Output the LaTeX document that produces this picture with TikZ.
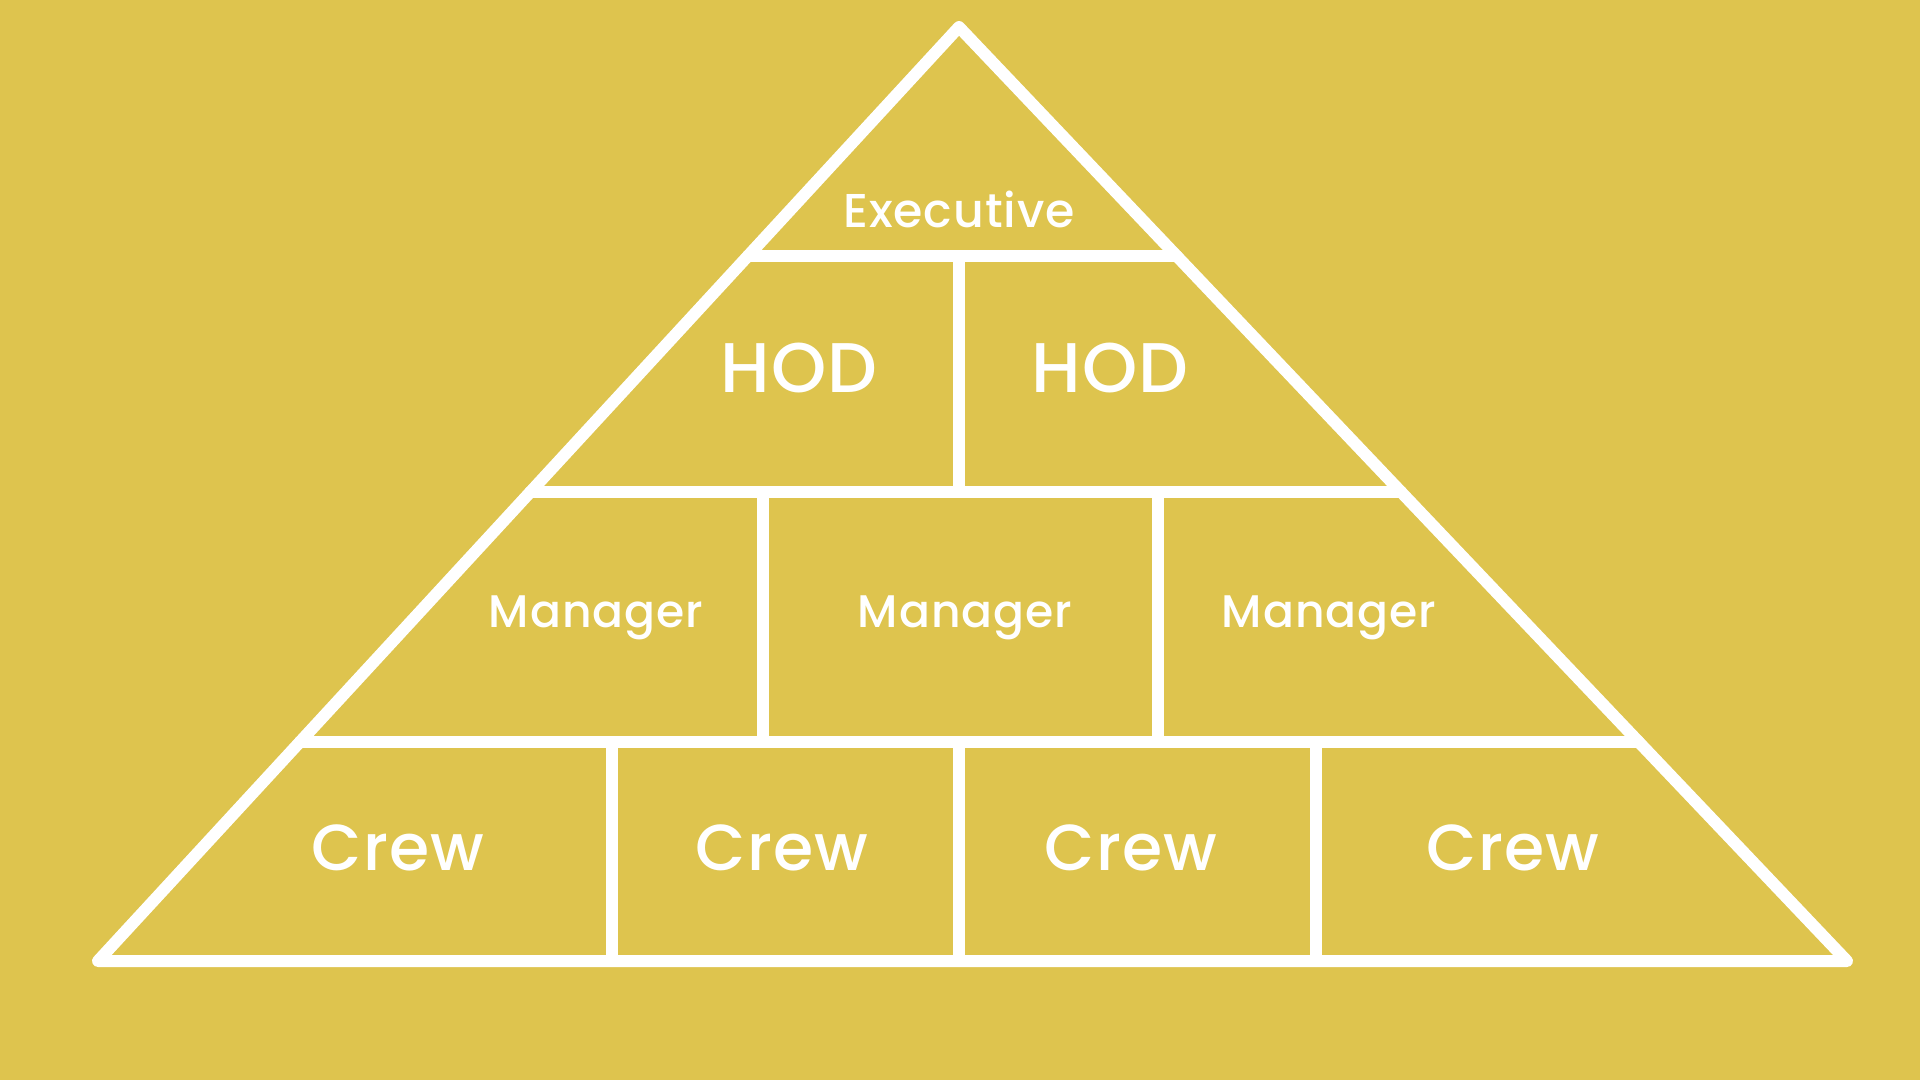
\documentclass[tikz,border=0pt]{standalone}
\usepackage{fontspec}
\setmainfont{Poppins}[UprightFont=* Medium,LetterSpace=2]
\usetikzlibrary{calc}
\definecolor{fond}{RGB}{222,196,78}
\begin{document}
\begin{tikzpicture}[x=0.1mm,y=-0.1mm]
% Styles
\tikzstyle{trait}=[white,line width=3.4pt,line cap=round,line join=round]
\tikzstyle{petit}=[text=white,inner sep=0pt,anchor=base,font=\fontsize{13}{15}\selectfont]
\tikzstyle{grand}=[text=white,inner sep=0pt,anchor=base,font=\fontsize{18.5}{22}\selectfont]
% Dimensions
\def\HtA{256}
\def\HtB{492}
\def\HtC{742}
\def\Bas{961}
% Fond
\fill[fond] (0,0) rectangle (1920,1080);
\useasboundingbox (0,0) rectangle (1920,1080);
% Sommets du triangle
\coordinate (sommet) at (959,27);
\coordinate (baseG) at (98,\Bas);
\coordinate (baseD) at (1847,\Bas);
% Lignes horizontales
\coordinate (aG) at ($(sommet)!0.2452!(baseG)$);
\coordinate (aD) at ($(sommet)!0.2452!(baseD)$);
\coordinate (bG) at ($(sommet)!0.4979!(baseG)$);
\coordinate (bD) at ($(sommet)!0.4979!(baseD)$);
\coordinate (cG) at ($(sommet)!0.7655!(baseG)$);
\coordinate (cD) at ($(sommet)!0.7655!(baseD)$);
% Niveau 1 : Executive
\node[petit,font=\fontsize{13.5}{16}\selectfont] (exec) at (959,227) {Executive};
% Niveau 2 : HOD
\node[grand,font=\fontsize{20}{24}\selectfont] (hodA) at (799,392) {HOD};
\node[grand,font=\fontsize{20}{24}\selectfont] (hodB) at (1110,392) {HOD};
\coordinate (hautH) at (959,\HtA);
\coordinate (basH) at (959,\HtB);
% Niveau 3 : Manager
\node[petit] (manA) at (596,627) {Manager};
\node[petit] (manB) at (965,627) {Manager};
\node[petit] (manC) at (1329,627) {Manager};
\coordinate (hautMA) at (763,\HtB);
\coordinate (basMA) at (763,\HtC);
\coordinate (hautMB) at (1158,\HtB);
\coordinate (basMB) at (1158,\HtC);
% Niveau 4 : Crew
\node[grand] (crewA) at (398,870) {Crew};
\node[grand] (crewB) at (782,870) {Crew};
\node[grand] (crewC) at (1131,870) {Crew};
\node[grand] (crewD) at (1513,870) {Crew};
\coordinate (hautCA) at (612,\HtC);
\coordinate (basCA) at (612,\Bas);
\coordinate (hautCB) at (959,\HtC);
\coordinate (basCB) at (959,\Bas);
\coordinate (hautCC) at (1316,\HtC);
\coordinate (basCC) at (1316,\Bas);
% Encadrement
\draw[trait] (sommet) -- (baseG) -- (baseD) -- cycle;
\draw[trait] (aG) -- (aD);
\draw[trait] (bG) -- (bD);
\draw[trait] (cG) -- (cD);
\draw[trait] (hautH) -- (basH);
\draw[trait] (hautMA) -- (basMA);
\draw[trait] (hautMB) -- (basMB);
\draw[trait] (hautCA) -- (basCA);
\draw[trait] (hautCB) -- (basCB);
\draw[trait] (hautCC) -- (basCC);
\end{tikzpicture}
\end{document}
